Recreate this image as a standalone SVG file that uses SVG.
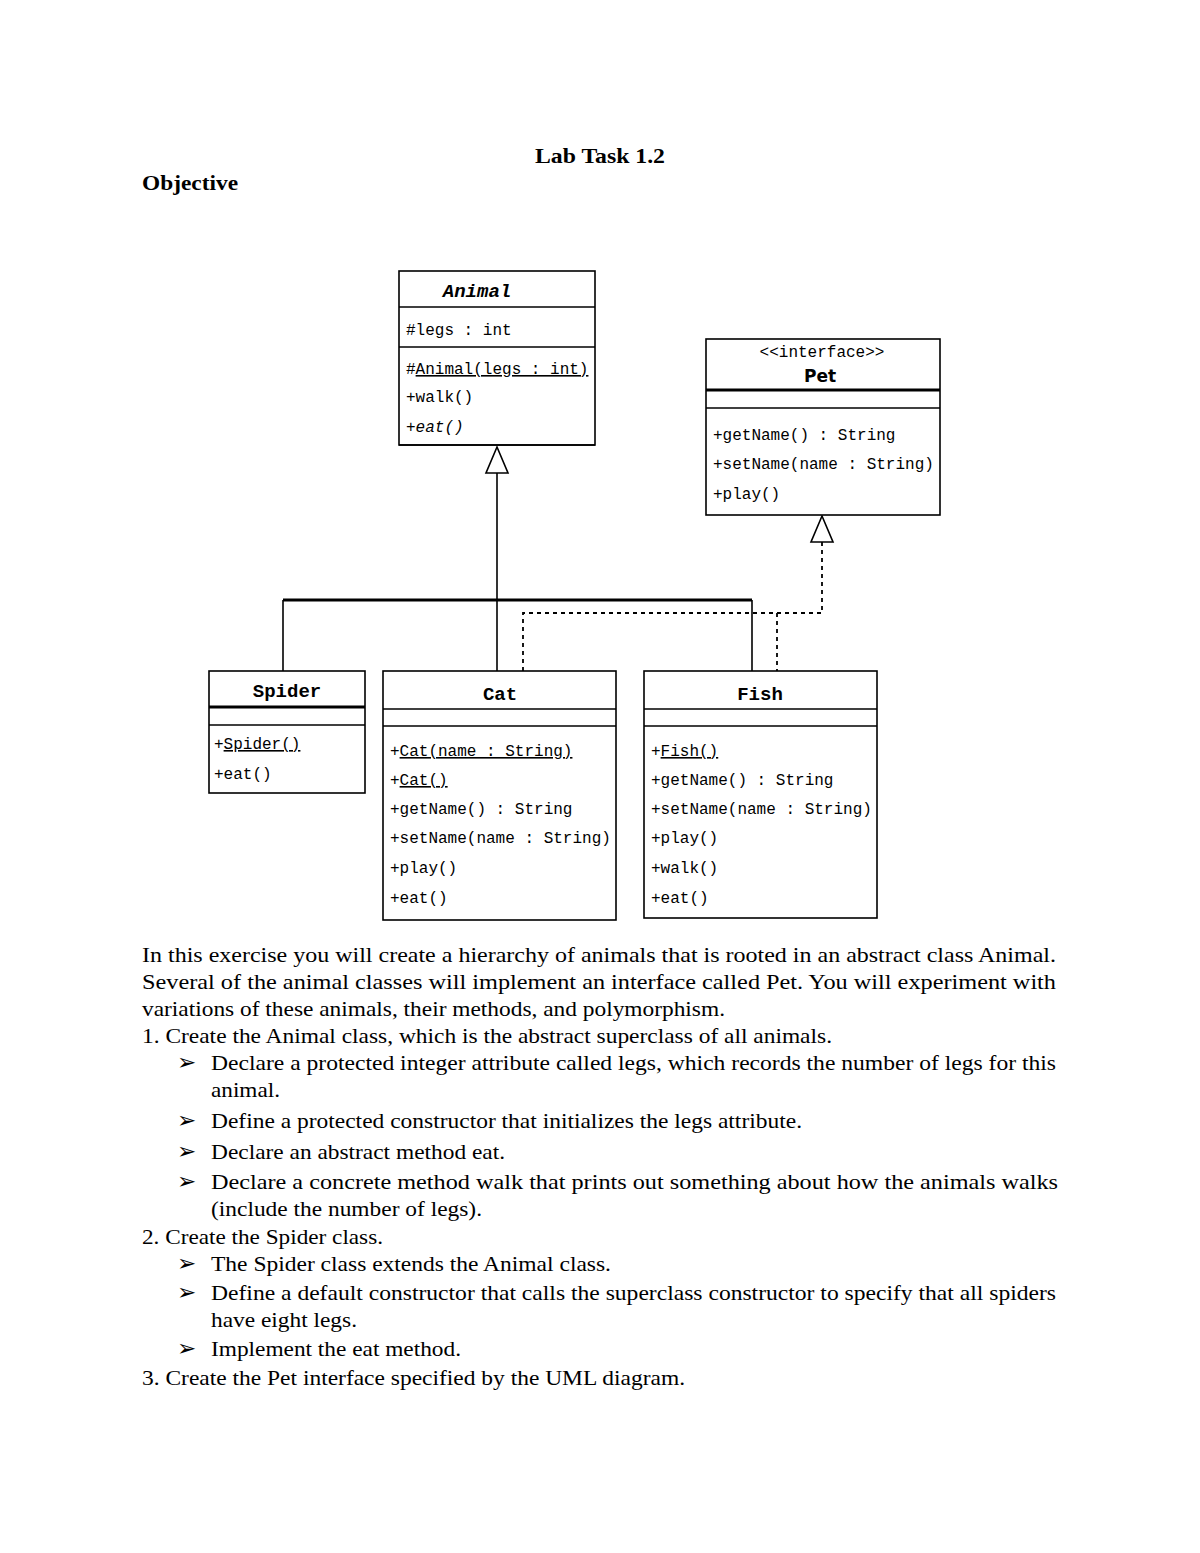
<svg xmlns="http://www.w3.org/2000/svg" width="1200" height="1553" viewBox="0 0 1200 1553">
<style>
.box{fill:#fff;stroke:#000;stroke-width:1.6}
.div{stroke:#000;stroke-width:1.6}
.thick{stroke:#000;stroke-width:3}
.m{font-family:"Liberation Mono","DejaVu Sans Mono",monospace;font-size:16px;fill:#000}
.h{font-family:"Liberation Mono","DejaVu Sans Mono",monospace;font-size:19px;font-weight:bold;fill:#000;text-anchor:middle}
.u{text-decoration:underline}
.t{font-family:"Liberation Serif","Times New Roman",serif;font-size:22px;fill:#000}
.ttl{font-family:"Liberation Serif","Times New Roman",serif;font-size:22px;font-weight:bold;fill:#000}
.b{font-family:"DejaVu Sans",sans-serif;font-size:17px;fill:#000}
.ar{font-family:"DejaVu Sans",sans-serif;font-size:23px;fill:#000}
.solid{fill:none;stroke:#000;stroke-width:1.6}
.dash{fill:none;stroke:#000;stroke-width:1.8;stroke-dasharray:4,4}
.tri{fill:#fff;stroke:#000;stroke-width:1.6}
</style>
<rect width="1200" height="1553" fill="#fff"/>
<text x="535" y="163" class="ttl" lengthAdjust="spacingAndGlyphs" textLength="130">Lab Task 1.2</text>
<text x="142" y="190" class="ttl" lengthAdjust="spacingAndGlyphs" textLength="96">Objective</text>

<g id="connectors">
  <polyline class="solid" points="497,473 497,671"/>
  <line class="thick" x1="283" y1="600" x2="752" y2="600"/>
  <line class="solid" x1="283" y1="600" x2="283" y2="671"/>
  <line class="solid" x1="752" y1="600" x2="752" y2="671"/>
  <polygon class="tri" points="497,447 486,473 508,473"/>
  <polyline class="dash" points="822,542 822,613 523,613 523,671"/>
  <line class="dash" x1="777" y1="613" x2="777" y2="671"/>
  <polygon class="tri" points="822,516 811,542 833,542"/>
</g>

<g id="animal">
  <rect class="box" x="399" y="271" width="196" height="174"/>
  <line class="div" x1="399" y1="307" x2="595" y2="307"/>
  <line class="div" x1="399" y1="347" x2="595" y2="347"/>
  <line class="div" x1="399" y1="445" x2="595" y2="445" stroke-width="2.5"/>
  <text x="477" y="297" class="h" font-style="italic">Animal</text>
  <text x="406" y="335" class="m">#legs : int</text>
  <text x="406" y="374" class="m">#<tspan class="u">Animal(legs : int)</tspan></text>
  <text x="406" y="402" class="m">+walk()</text>
  <text x="406" y="432" class="m" font-style="italic">+eat()</text>
</g>

<g id="pet">
  <rect class="box" x="706" y="339" width="234" height="176"/>
  <line class="thick" x1="706" y1="390" x2="940" y2="390"/>
  <line class="div" x1="706" y1="408" x2="940" y2="408"/>
  <text x="822" y="357" class="m" font-size="12" text-anchor="middle">&lt;&lt;interface&gt;&gt;</text>
  <text x="820" y="382" class="b" font-weight="bold" font-size="19" text-anchor="middle">Pet</text>
  <text x="713" y="440" class="m">+getName() : String</text>
  <text x="713" y="469" class="m">+setName(name : String)</text>
  <text x="713" y="499" class="m">+play()</text>
</g>

<g id="spider">
  <rect class="box" x="209" y="671" width="156" height="122"/>
  <line class="thick" x1="209" y1="707" x2="365" y2="707"/>
  <line class="div" x1="209" y1="725" x2="365" y2="725"/>
  <text x="287" y="697" class="h">Spider</text>
  <text x="214" y="749" class="m">+<tspan class="u">Spider()</tspan></text>
  <text x="214" y="779" class="m">+eat()</text>
</g>

<g id="cat">
  <rect class="box" x="383" y="671" width="233" height="249"/>
  <line class="div" x1="383" y1="709" x2="616" y2="709"/>
  <line class="div" x1="383" y1="726" x2="616" y2="726"/>
  <text x="500" y="700" class="h">Cat</text>
  <text x="390" y="756" class="m">+<tspan class="u">Cat(name : String)</tspan></text>
  <text x="390" y="785" class="m">+<tspan class="u">Cat()</tspan></text>
  <text x="390" y="814" class="m">+getName() : String</text>
  <text x="390" y="843" class="m">+setName(name : String)</text>
  <text x="390" y="873" class="m">+play()</text>
  <text x="390" y="903" class="m">+eat()</text>
</g>

<g id="fish">
  <rect class="box" x="644" y="671" width="233" height="247"/>
  <line class="div" x1="644" y1="709" x2="877" y2="709"/>
  <line class="div" x1="644" y1="726" x2="877" y2="726"/>
  <text x="760" y="700" class="h">Fish</text>
  <text x="651" y="756" class="m">+<tspan class="u">Fish()</tspan></text>
  <text x="651" y="785" class="m">+getName() : String</text>
  <text x="651" y="814" class="m">+setName(name : String)</text>
  <text x="651" y="843" class="m">+play()</text>
  <text x="651" y="873" class="m">+walk()</text>
  <text x="651" y="903" class="m">+eat()</text>
</g>

<g id="body">
  <text x="142" y="962" class="t" lengthAdjust="spacingAndGlyphs" textLength="914">In this exercise you will create a hierarchy of animals that is rooted in an abstract class Animal.</text>
  <text x="142" y="989" class="t" lengthAdjust="spacingAndGlyphs" textLength="914">Several of the animal classes will implement an interface called Pet. You will experiment with</text>
  <text x="142" y="1016" class="t" lengthAdjust="spacingAndGlyphs" textLength="583">variations of these animals, their methods, and polymorphism.</text>
  <text x="142" y="1043" class="t" lengthAdjust="spacingAndGlyphs" textLength="690">1. Create the Animal class, which is the abstract superclass of all animals.</text>
  <text x="177" y="1070" class="ar">➢</text>
  <text x="211" y="1070" class="t" lengthAdjust="spacingAndGlyphs" textLength="845">Declare a protected integer attribute called legs, which records the number of legs for this</text>
  <text x="211" y="1097" class="t" lengthAdjust="spacingAndGlyphs" textLength="69">animal.</text>
  <text x="177" y="1128" class="ar">➢</text>
  <text x="211" y="1128" class="t" lengthAdjust="spacingAndGlyphs" textLength="591">Define a protected constructor that initializes the legs attribute.</text>
  <text x="177" y="1159" class="ar">➢</text>
  <text x="211" y="1159" class="t" lengthAdjust="spacingAndGlyphs" textLength="294">Declare an abstract method eat.</text>
  <text x="177" y="1189" class="ar">➢</text>
  <text x="211" y="1189" class="t" lengthAdjust="spacingAndGlyphs" textLength="847">Declare a concrete method walk that prints out something about how the animals walks</text>
  <text x="211" y="1216" class="t" lengthAdjust="spacingAndGlyphs" textLength="271">(include the number of legs).</text>
  <text x="142" y="1244" class="t" lengthAdjust="spacingAndGlyphs" textLength="241">2. Create the Spider class.</text>
  <text x="177" y="1271" class="ar">➢</text>
  <text x="211" y="1271" class="t" lengthAdjust="spacingAndGlyphs" textLength="400">The Spider class extends the Animal class.</text>
  <text x="177" y="1300" class="ar">➢</text>
  <text x="211" y="1300" class="t" lengthAdjust="spacingAndGlyphs" textLength="845">Define a default constructor that calls the superclass constructor to specify that all spiders</text>
  <text x="211" y="1327" class="t" lengthAdjust="spacingAndGlyphs" textLength="146">have eight legs.</text>
  <text x="177" y="1356" class="ar">➢</text>
  <text x="211" y="1356" class="t" lengthAdjust="spacingAndGlyphs" textLength="250">Implement the eat method.</text>
  <text x="142" y="1385" class="t" lengthAdjust="spacingAndGlyphs" textLength="543">3. Create the Pet interface specified by the UML diagram.</text>
</g>
</svg>
